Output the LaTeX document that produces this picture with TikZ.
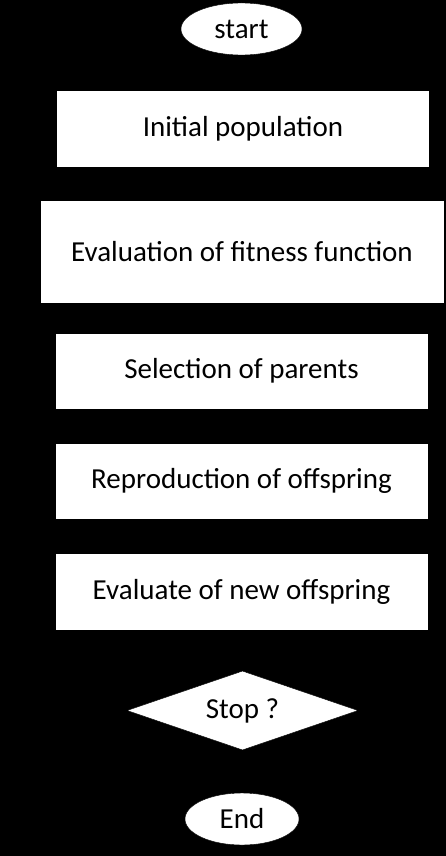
\documentclass[tikz,border=0pt]{standalone}
\usepackage{fontspec}
\setmainfont{Carlito}
\usetikzlibrary{shapes.geometric}
\newlength{\du}
\setlength{\du}{1pt}
\tikzset{
  terminal/.style={ellipse,fill=white,draw=black,inner sep=0pt,minimum width=121\du,minimum height=52\du,font=\fontsize{29}{33}\selectfont},
  stepbox/.style={rectangle,fill=white,draw=black,inner sep=0pt,minimum width=373\du,minimum height=77\du,font=\fontsize{29}{33}\selectfont},
  decision/.style={diamond,aspect=2.92,fill=white,draw=black,inner sep=0pt,minimum width=231\du,minimum height=79\du,font=\fontsize{29}{33}\selectfont}
}
\begin{document}
\begin{tikzpicture}
\pgftransformxscale{1.000000}
\pgftransformyscale{-1.000000}
\fill[black] (0\du,0\du) rectangle (446\du,856\du);
\useasboundingbox (0\du,0\du) rectangle (446\du,856\du);
% terminals and steps
\node[terminal] (start) at (241.5\du,29\du){start};
\node[stepbox] (init) at (243\du,128.5\du){Initial population};
\node[stepbox,minimum width=404\du,minimum height=103\du] (fitness) at (242\du,251.5\du){Evaluation of fitness function};
\node[stepbox,minimum height=76\du] (select) at (241.5\du,371\du){Selection of parents};
\node[stepbox,minimum height=76\du] (repro) at (241.5\du,481\du){Reproduction of offspring};
\node[stepbox] (neweval) at (241.5\du,591.5\du){Evaluate of new offspring};
\node[decision] (stop) at (242.5\du,710.5\du){Stop ?};
\node[terminal,minimum width=114\du] (end) at (242\du,819\du){End};
% connectors, drawn in black
\pgfsetlinewidth{1.5\du}
\pgfsetarrowsend{stealth}
\draw[black] (start)--(init);
\draw[black] (init)--(fitness);
\draw[black] (fitness)--(select);
\draw[black] (select)--(repro);
\draw[black] (repro)--(neweval);
\draw[black] (neweval)--(stop);
\draw[black] (stop)--(end);
\end{tikzpicture}
\end{document}
